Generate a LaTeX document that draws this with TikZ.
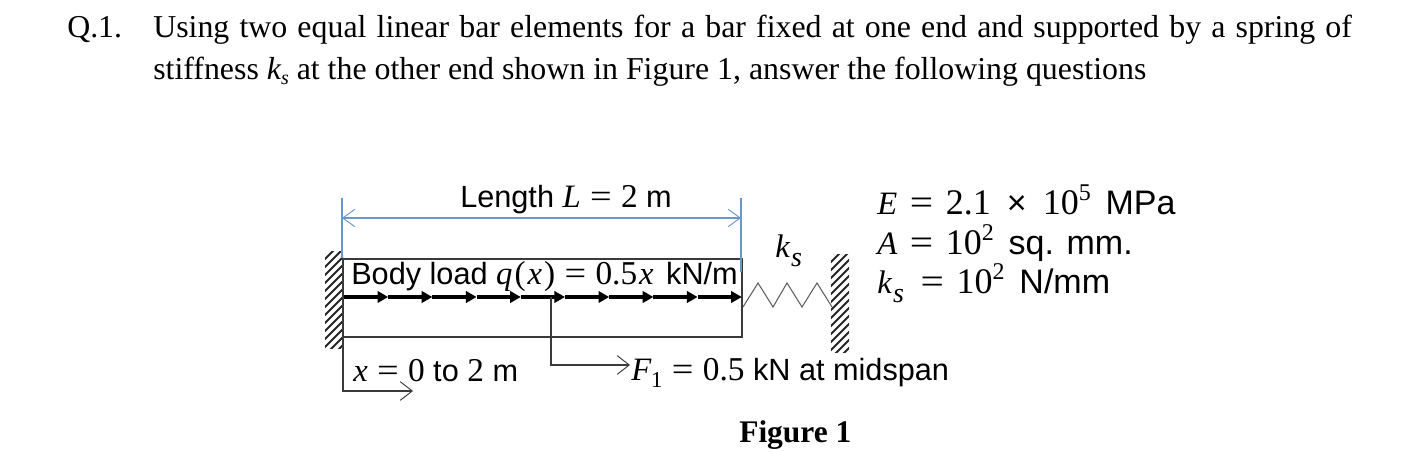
\documentclass[tikz,border=0pt]{standalone}
\usepackage{fontspec}
\setmainfont{Liberation Serif}
\newfontfamily\lsans{Liberation Sans}
\usetikzlibrary{arrows.meta}
\definecolor{dimblue}{HTML}{6A97C9}
\definecolor{barline}{HTML}{3A3A3A}
\def\mnsz{25}
\newcommand{\mv}[1]{{\rmfamily\itshape\fontsize{24.5}{26}\selectfont #1}}
\newcommand{\mn}[1]{{\rmfamily\fontsize{\mnsz}{26}\selectfont #1}}
\newcommand{\subs}[1]{\raisebox{-0.45ex}{\rmfamily\fontsize{17}{17}\selectfont #1}}
\newcommand{\subk}{\hspace{1pt}\raisebox{-0.5ex}{\rmfamily\itshape\fontsize{21}{21}\selectfont s}}
\newcommand{\sups}[1]{\raisebox{0.8ex}{\rmfamily\fontsize{18}{18}\selectfont #1}}
\newcommand{\eqs}{\hspace{7pt}\mn{\scalebox{1.15}[1]{=}}\hspace{7pt}}
\newcommand{\eqp}{\hspace{9.5pt}\mn{\scalebox{1.15}[1]{=}}\hspace{9.5pt}}
\newcommand{\tg}{\hspace{1.5pt}}
\tikzset{
  x=0.75pt,y=-0.75pt,
  bodytext/.style={anchor=base west,inner sep=0pt,font=\fontsize{23.9}{28}\selectfont},
  figtext/.style={anchor=base west,inner sep=0pt,font=\lsans\fontsize{23}{26}\selectfont},
  paramtext/.style={anchor=base west,inner sep=0pt,font=\lsans\fontsize{25.5}{28}\selectfont\def\mnsz{27}},
  dimline/.style={draw=dimblue,line width=0.8pt},
  dimarrow/.style={dimline,{Straight Barb[length=9pt,width=13pt,line width=0.7pt]}-{Straight Barb[length=9pt,width=13pt,line width=0.7pt]}},
  barrect/.style={draw=barline,line width=1pt},
  leader/.style={draw=barline,line width=0.8pt,-{Straight Barb[length=9pt,width=14pt,line width=0.7pt]}},
  loadarrow/.style={draw=black,line width=3pt,-{Triangle[length=8pt,width=8.5pt]}},
  springline/.style={draw=barline!80,line width=0.8pt,line join=miter},
  hatchline/.style={draw=black!85,line width=1.5pt},
}
\begin{document}
\begin{tikzpicture}
\useasboundingbox (0,0) rectangle (1410,452);
\fill[white] (0,0) rectangle (1410,452);
% question text
\node[bodytext] (qnum) at (67,38) {Q.1.};
\node[bodytext] (qline1) at (153,38) {\makebox[899pt][s]{Using two equal linear bar elements for a bar fixed at one end and supported by a spring of}};
\node[bodytext] (qline2) at (153,80) {stiffness \textit{k\raisebox{-0.3ex}{\fontsize{15}{15}\selectfont s}} at the other end shown in Figure 1, answer the following questions};
% walls
\begin{scope}
\clip (325,252) rectangle (343,348);
\foreach \i in {0,...,18}{\draw[hatchline] (320,264+8*\i) -- (350,264+8*\i-30);}
\end{scope}
\begin{scope}
\clip (831,255) rectangle (849,352);
\foreach \i in {0,...,18}{\draw[hatchline] (826,267+8*\i) -- (856,267+8*\i-30);}
\end{scope}
% named points
\coordinate (barNW) at (343,259);
\coordinate (barSE) at (742,337);
\coordinate (dimLtop) at (342,198);
\coordinate (dimLbot) at (342,258);
\coordinate (dimRtop) at (741,198);
\coordinate (dimRbot) at (741,272);
\coordinate (dimL) at (342,218);
\coordinate (dimR) at (741,218);
% bar
\draw[barrect] (barNW) rectangle (barSE);
% dimension lines
\draw[dimline] (dimLtop) -- (dimLbot);
\draw[dimline] (dimRtop) -- (dimRbot);
\draw[dimarrow] (dimL) -- (dimR);
% distributed load
\foreach \s [evaluate=\s as \a using 344+44.2*\s, evaluate=\s as \b using 344+44.2*(\s+1)] in {0,...,8}{
  \coordinate (la\s) at (\a,297);
  \coordinate (lb\s) at (\b,297);
  \draw[loadarrow] (la\s) -- (lb\s);
}
% spring
\coordinate (sp0) at (743,307);
\coordinate (sp1) at (758,283);
\coordinate (sp2) at (773,307);
\coordinate (sp3) at (787,283);
\coordinate (sp4) at (802,307);
\coordinate (sp5) at (817,283);
\coordinate (sp6) at (832,307);
\draw[springline] (sp0) -- (sp1) -- (sp2) -- (sp3) -- (sp4) -- (sp5) -- (sp6);
% leaders
\coordinate (fA) at (551,297);
\coordinate (fB) at (551,365);
\coordinate (fC) at (630,365);
\draw[leader] (fA) -- (fB) -- (fC);
\coordinate (xA) at (343,337);
\coordinate (xB) at (343,391);
\coordinate (xC) at (413,391);
\draw[leader] (xA) -- (xB) -- (xC);
% labels
\node[figtext] (lenlabel) at (460,208) {Length \mv{L}\eqs\mn{2} m};
\node[figtext] (loadlabel) at (351,285) {Body load \mv{q}\tg\mn{(}\tg\mv{x}\tg\mn{)}\eqs\mn{0.5}\tg\mv{x}\hspace{3pt} kN/m};
\node[figtext] (xlabel) at (353,381) {\mv{x}\eqs\mn{0} to \mn{2} m};
\node[figtext] (flabel) at (631,380) {\mv{F}\subs{1}\eqs\mn{0.5} kN at midspan};
\node[figtext] (kslabel) at (775,258) {\mv{k}\subk};
\node[paramtext] (elabel) at (877,215) {\mv{E}\eqp\mn{2.1}\hspace{12pt}×\hspace{12pt}\mn{10}\sups{5}\hspace{4pt} MPa};
\node[paramtext] (alabel) at (877,255) {\mv{A}\eqp\mn{10}\sups{2}\hspace{4pt} sq. mm.};
\node[paramtext] (klabel) at (877,294) {\mv{k}\subk\hspace{3pt}\eqp\mn{10}\sups{2}\hspace{4pt} N/mm};
\node[bodytext,font=\bfseries\fontsize{23.6}{28}\selectfont] (figlabel) at (739,442) {Figure 1};
\end{tikzpicture}
\end{document}
